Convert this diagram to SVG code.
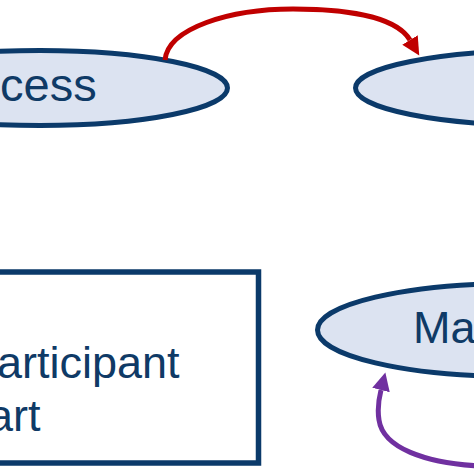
<svg xmlns="http://www.w3.org/2000/svg" width="474" height="474" viewBox="0 0 474 474">
  <style>
    .node { fill: #dce3f1; stroke: #0b3a6a; stroke-width: 5; }
    .box { fill: #ffffff; stroke: #0b3a6a; stroke-width: 5.5; }
    .label { font-family: "Liberation Sans", Arial, sans-serif; font-size: 45px; fill: #0f3a66; }
    .conn { fill: none; stroke-width: 5; stroke-linecap: butt; }
  </style>
  <defs>
    <marker id="headRed" markerUnits="userSpaceOnUse" markerWidth="20" markerHeight="20" refX="0" refY="9" orient="auto">
      <path d="M0,0 L18,9 L0,18 z" fill="#c00000"/>
    </marker>
    <marker id="headPurple" markerUnits="userSpaceOnUse" markerWidth="20" markerHeight="20" refX="0" refY="9" orient="auto">
      <path d="M0,0 L18,9 L0,18 z" fill="#7030a0"/>
    </marker>
  </defs>
  <rect width="474" height="474" fill="#ffffff"/>

  <g id="node-process">
    <ellipse class="node" cx="40" cy="88" rx="187.5" ry="37.5"/>
    <text class="label" x="0" y="101" style="font-size:47px">cess</text>
  </g>

  <g id="node-top-right">
    <ellipse class="node" cx="543" cy="88" rx="187.5" ry="37.5"/>
  </g>

  <g id="node-participant">
    <rect class="box" x="-20" y="272" width="278.5" height="191"/>
    <text class="label" x="-3" y="378">articipant</text>
    <text class="label" x="-12" y="431">art</text>
  </g>

  <g id="node-ma">
    <ellipse class="node" cx="515" cy="330" rx="197.5" ry="46.5"/>
    <text class="label" x="413" y="343">Ma</text>
  </g>

  <g id="connectors">
    <path class="conn" stroke="#c00000" d="M165,60 C168,28 230,9 293,9 C340,9 395,15 410,40" marker-end="url(#headRed)"/>
    <path class="conn" stroke="#7030a0" d="M480,466 C425,463 383,448 379,420 C377,408 379,398 381,390" marker-end="url(#headPurple)"/>
  </g>
</svg>
